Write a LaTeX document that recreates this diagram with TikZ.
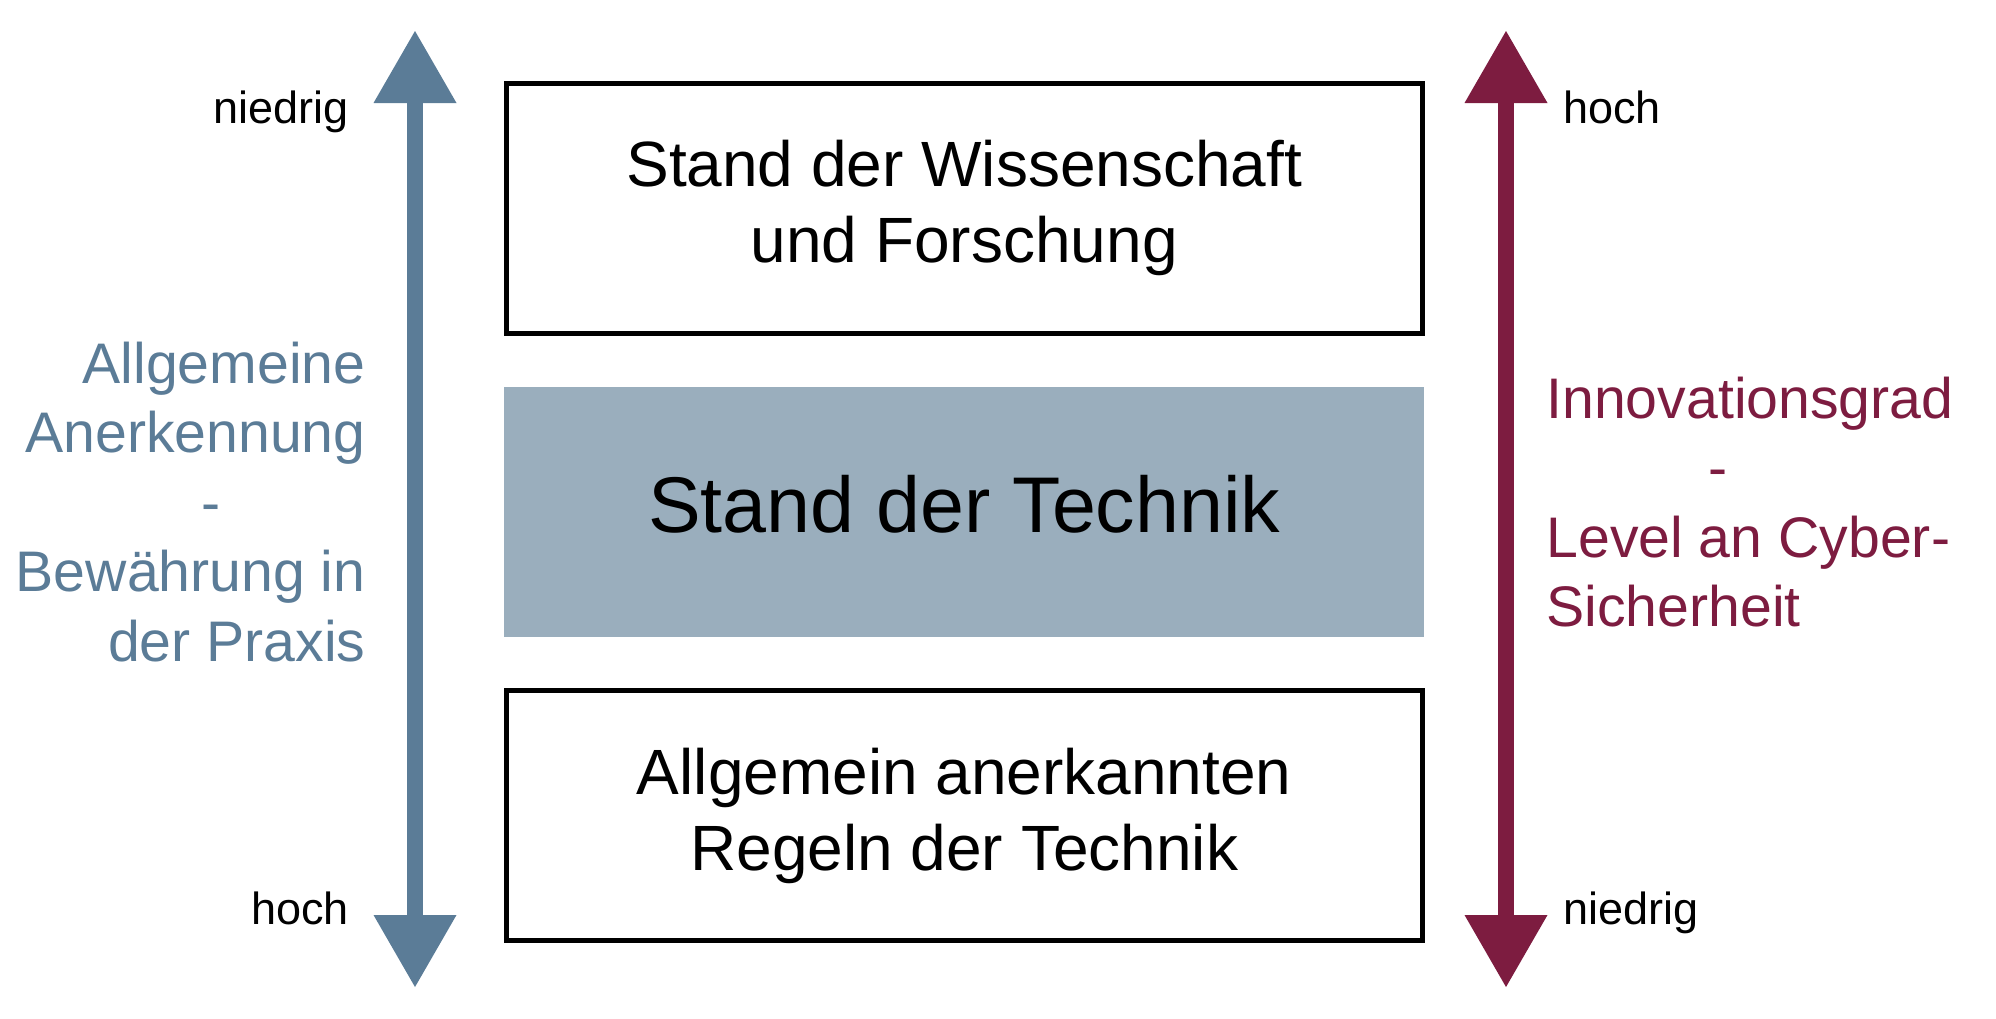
\documentclass[tikz,border=0pt]{standalone}
\usepackage{fontspec}
\setmainfont{Liberation Sans}
\usetikzlibrary{arrows.meta}
\definecolor{steel}{HTML}{5B7C97}
\definecolor{wine}{HTML}{7D1C40}
\definecolor{boxfill}{HTML}{9AAEBD}
\tikzset{axtip/.tip={Triangle[width=41.5pt,length=36pt,line width=0pt]}}
\begin{document}
\begin{tikzpicture}[x=0.5pt,y=-0.5pt,
  framebox/.style={draw=black,line width=2.5pt,minimum width=458.25pt,minimum height=125pt,
    inner sep=0pt,align=center,font=\fontsize{32pt}{38pt}\selectfont},
  fillbox/.style={fill=boxfill,minimum width=460pt,minimum height=125pt,inner sep=0pt},
  bigtext/.style={inner sep=0pt,font=\fontsize{39.5pt}{46pt}\selectfont},
  axislabel/.style={inner sep=0pt,font=\fontsize{28.6pt}{34.75pt}\selectfont},
  smalllabel/.style={inner sep=0pt,font=\fontsize{22.5pt}{27pt}\selectfont},
  axisarrow/.style={line width=8pt,{axtip}-{axtip}},
]
\useasboundingbox (0,0) rectangle (1996,1018);
% boxes
\node[framebox] (top) at (964.25,208) {Stand der Wissenschaft\\und Forschung};
\node[fillbox] (mid) at (964.25,512) {};
\node[bigtext,anchor=base] (midtext) at (964.25,532) {Stand der Technik};
\node[framebox] (bot) at (964.25,815.5) {Allgemein anerkannten\\Regeln der Technik};
% arrows
\coordinate (lt) at (415,31);
\coordinate (lb) at (415,987);
\coordinate (rt) at (1506,31);
\coordinate (rb) at (1506,987);
\draw[axisarrow,steel] (lb) -- (lt);
\draw[axisarrow,wine] (rb) -- (rt);
% small labels
\node[smalllabel,anchor=base east] (lniedrig) at (349,123) {niedrig};
\node[smalllabel,anchor=base east] (lhoch) at (349,924) {hoch};
\node[smalllabel,anchor=base west] (rhoch) at (1563,123) {hoch};
\node[smalllabel,anchor=base west] (rniedrig) at (1563,924) {niedrig};
% axis texts
\node[axislabel,text=steel,align=right,anchor=east] (ltext) at (366,502)
  {Allgemeine\\Anerkennung\\-\hspace*{72.5pt}\null\\Bewährung in\\der Praxis};
\node[axislabel,text=wine,align=left,anchor=west] (rtext) at (1546,502)
  {Innovationsgrad\\\hspace*{81.25pt}-\\Level an Cyber-\\Sicherheit};
\end{tikzpicture}
\end{document}
